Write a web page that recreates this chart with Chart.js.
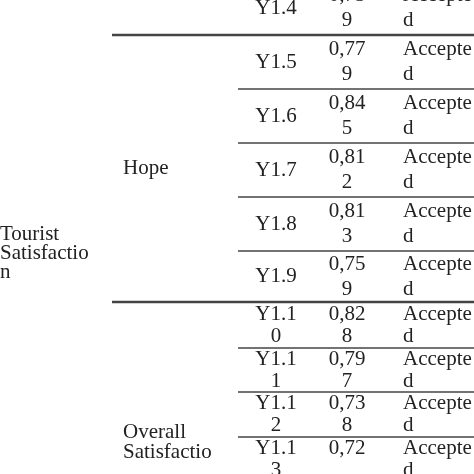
<!DOCTYPE html>
<html><head><style>html,body{margin:0;padding:0;background:#fff;overflow:hidden}</style>
<script src="https://cdn.jsdelivr.net/npm/chart.js@4"></script></head>
<body><canvas id="c" width="474" height="474"></canvas>
<script>
const items = ["Y1.4","Y1.5","Y1.6","Y1.7","Y1.8","Y1.9","Y1.1\n0","Y1.1\n1","Y1.1\n2","Y1.1\n3"];
const loadings = ["0,75\n9","0,77\n9","0,84\n5","0,81\n2","0,81\n3","0,75\n9","0,82\n8","0,79\n7","0,73\n8","0,72\n"];
const status = ["Accepte\nd","Accepte\nd","Accepte\nd","Accepte\nd","Accepte\nd","Accepte\nd","Accepte\nd","Accepte\nd","Accepte\nd","Accepte\nd"];
const rowEdges = [-19,35,89,143,197,251,302,348,392,437,482];
const groupRules = [35,302];
const groups = [{text:"Hope",y:168},{text:"Overall\nSatisfactio",y:442}];
const varLabel = {text:"Tourist\nSatisfactio\nn",y:253};

const plugin = {id:'tbl',afterDraw(ch){
  const c=ch.ctx, X=ch.scales.x, Y=ch.scales.y;
  c.save();
  c.font='21px "Liberation Serif", serif';c.fillStyle='#222';c.textBaseline='middle';
  const lines=(t,x,y,align,sp)=>{const ls=t.split('\n');c.textAlign=align;
    ls.forEach((l,i)=>c.fillText(l,X.getPixelForValue(x),Y.getPixelForValue(y+(i-(ls.length-1)/2)*sp)));};
  for(let i=0;i<items.length;i++){
    const cy=(rowEdges[i]+rowEdges[i+1])/2;
    const sp=i>=6?22:25;
    lines(items[i],276,cy,'center',sp);
    lines(loadings[i],347,cy,'center',sp);
    lines(status[i],403,cy,'left',sp);
  }
  groups.forEach(g=>lines(g.text,123,g.y,'left',20));
  lines(varLabel.text,0,varLabel.y,'left',19);
  c.strokeStyle='#444';
  rowEdges.slice(1,-1).forEach(e=>{
    const thick=groupRules.includes(e);
    c.lineWidth=thick?2.5:1.5;c.beginPath();
    c.moveTo(X.getPixelForValue(thick?112:238),Y.getPixelForValue(e));
    c.lineTo(X.getPixelForValue(474),Y.getPixelForValue(e));c.stroke();});
  c.restore();
}};
new Chart(document.getElementById('c'),{type:'scatter',data:{datasets:[{data:[]}]},
 options:{responsive:false,animation:false,layout:{padding:0},
  plugins:{legend:{display:false},tooltip:{enabled:false}},
  scales:{x:{type:'linear',min:0,max:474,display:false},y:{type:'linear',min:0,max:474,reverse:true,display:false}}},
 plugins:[plugin]});
</script></body></html>
